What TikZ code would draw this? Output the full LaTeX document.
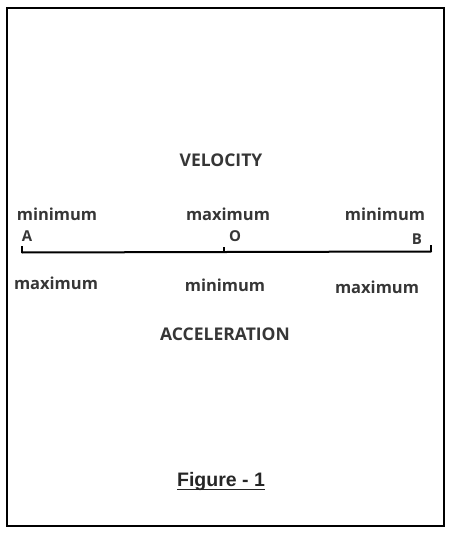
\documentclass[tikz,border=0pt]{standalone}
\usepackage{fontspec}
\setmainfont{Open Sans}
\newfontfamily\captionfont{Liberation Sans}
\usetikzlibrary{positioning, calc}
\definecolor{inkgray}{HTML}{363636}
\tikzset{
every node/.style = {inner sep = 0pt, outer sep = 0pt, text = inkgray},
heading/.style = {font = \fontsize{17.5}{20}\selectfont\bfseries},
word/.style = {font = \fontsize{16.5}{19}\selectfont\bfseries},
letter/.style = {font = \fontsize{15}{17}\selectfont\bfseries},
caption/.style = {font = \fontsize{19.5}{22}\selectfont\captionfont\bfseries, text = black!85},
axisline/.style = {line width = 2pt, line cap = round},
tick/.style = {line width = 2pt},
frame/.style = {line width = 2pt}
}

\begin{document}
\begin{tikzpicture}[x = 1pt, y = -1pt]
\useasboundingbox (0,0) rectangle (454,534);

%% The frame
\draw [frame] (7,8) rectangle (444,526);

%% The line A -- O -- B
\coordinate (A) at (22,252.5);
\coordinate (B) at (431,251.5);
\coordinate (O) at ($(A)!0.493!(B)$);
\draw [axisline] (A) -- (B);
\draw [tick] (A) -- ++(0,-6.5);
\draw [tick] (O) -- ++(0,-5.5);
\draw [tick] (B) -- ++(0,-6.5);

%% The points
\node [letter] (lA) at (27,236) {A};
\node [letter] (lO) at (235,236) {O};
\node [letter] (lB) at (417,239) {B};

%% Velocity
\node [heading] (vel) at (221,160) {VELOCITY};
\node [word] (v1) at (57,214) {minimum};
\node [word] (v2) at (228,214) {maximum};
\node [word] (v3) at (385,214) {minimum};

%% Acceleration
\node [word] (a1) at (56,283) {maximum};
\node [word] (a2) at (225,285) {minimum};
\node [word] (a3) at (377,287) {maximum};
\node [heading] (acc) at (225,334) {ACCELERATION};

%% The caption
\node [caption, anchor = base] (fig) at (221,486) {Figure - 1};
\draw [line width = 1.3pt, black!85] ($(fig.base west)+(0,3.5)$) -- ($(fig.base east)+(0,3.5)$);

\end{tikzpicture}
\end{document}
